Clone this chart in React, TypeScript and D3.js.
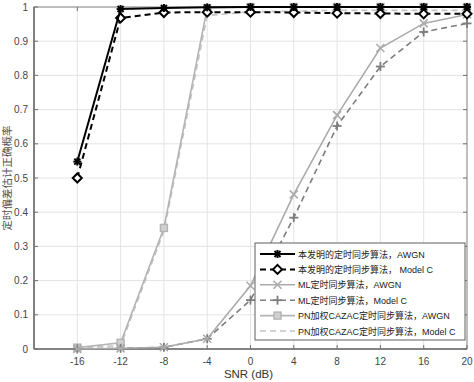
import React from "react";
import * as d3 from "d3";

const snr = [-16, -12, -8, -4, 0, 4, 8, 12, 16, 20];
const propAwgn = [0.548, 0.994, 0.997, 0.999, 1, 1, 1, 1, 1, 1];
const propModelC = [0.5, 0.968, 0.984, 0.985, 0.985, 0.984, 0.982, 0.981, 0.98, 0.98];
const mlAwgn = [0, 0.002, 0.005, 0.03, 0.185, 0.452, 0.684, 0.88, 0.952, 0.978];
const mlModelC = [0, 0.002, 0.005, 0.03, 0.143, 0.384, 0.652, 0.826, 0.927, 0.952];
const pnAwgn = [0.004, 0.018, 0.354, 0.997, 1, 1, 1, 1, 1, 1];
const pnModelC = [0.003, 0.01, 0.345, 0.975, 0.986, 0.988, 0.99, 0.99, 0.99, 0.99];

const xTicks = [-16, -12, -8, -4, 0, 4, 8, 12, 16, 20];
const yTicks = [0, 0.1, 0.2, 0.3, 0.4, 0.5, 0.6, 0.7, 0.8, 0.9, 1];
const legendLabels = [
  "本发明的定时同步算法，AWGN",
  "本发明的定时同步算法， Model C",
  "ML定时同步算法，AWGN",
  "ML定时同步算法，Model C",
  "PN加权CAZAC定时同步算法，AWGN",
  "PN加权CAZAC定时同步算法，Model C",
];
const yLabel = "定时偏差估计正确概率";
const xLabel = "SNR (dB)";

type Series = {
  values: number[];
  color: string;
  width: number;
  dash: string | null;
  marker: "star" | "diamond" | "x" | "plus" | "square" | "none";
};

const series: Series[] = [
  { values: propAwgn, color: "#000", width: 2, dash: null, marker: "star" },
  { values: propModelC, color: "#000", width: 2, dash: "6,4", marker: "diamond" },
  { values: mlAwgn, color: "#ababab", width: 1.6, dash: null, marker: "x" },
  { values: mlModelC, color: "#7d7d7d", width: 1.6, dash: "6,4", marker: "plus" },
  { values: pnAwgn, color: "#b4b4b4", width: 1.6, dash: null, marker: "square" },
  { values: pnModelC, color: "#c4c4c4", width: 1.6, dash: "6,4", marker: "none" },
];

const W = 474;
const H = 382;
const x = d3.scaleLinear().domain([-20, 20]).range([34, 467]);
const y = d3.scaleLinear().domain([0, 1]).range([349, 7]);

function Marker({ kind, cx, cy, color }: { kind: Series["marker"]; cx: number; cy: number; color: string }) {
  const s = 4;
  if (kind === "star") {
    return (
      <g stroke={color} strokeWidth={2}>
        <line x1={cx - s} y1={cy} x2={cx + s} y2={cy} />
        <line x1={cx} y1={cy - s} x2={cx} y2={cy + s} />
        <line x1={cx - s * 0.75} y1={cy - s * 0.75} x2={cx + s * 0.75} y2={cy + s * 0.75} />
        <line x1={cx - s * 0.75} y1={cy + s * 0.75} x2={cx + s * 0.75} y2={cy - s * 0.75} />
      </g>
    );
  }
  if (kind === "diamond") {
    const d = 4.5;
    return (
      <path
        d={`M${cx},${cy - d}L${cx + d},${cy}L${cx},${cy + d}L${cx - d},${cy}Z`}
        fill="#fff"
        stroke={color}
        strokeWidth={2}
      />
    );
  }
  if (kind === "x") {
    return (
      <g stroke={color} strokeWidth={1.6}>
        <line x1={cx - s} y1={cy - s} x2={cx + s} y2={cy + s} />
        <line x1={cx - s} y1={cy + s} x2={cx + s} y2={cy - s} />
      </g>
    );
  }
  if (kind === "plus") {
    return (
      <g stroke={color} strokeWidth={1.8}>
        <line x1={cx - s - 0.5} y1={cy} x2={cx + s + 0.5} y2={cy} />
        <line x1={cx} y1={cy - s - 0.5} x2={cx} y2={cy + s + 0.5} />
      </g>
    );
  }
  if (kind === "square") {
    return <rect x={cx - 3.5} y={cy - 3.5} width={7} height={7} fill="#d0d0d0" stroke={color} strokeWidth={1.4} />;
  }
  return null;
}

export default function App() {
  const line = d3
    .line<number>()
    .x((_, i) => x(snr[i]))
    .y((v) => y(v));
  const font = "'Liberation Sans', Arial, 'Noto Sans CJK SC', sans-serif";
  const x0 = x.range()[0];
  const x1 = x.range()[1];
  const yb = y.range()[0];
  const yt = y.range()[1];
  const lg = { x: 255, y: 243, w: 210, h: 97 };
  const rowH = 15.4;
  return (
    <svg width={W} height={H} style={{ position: "absolute", left: 0, top: 0, background: "#fff" }} fontFamily={font}>
      <rect width={W} height={H} fill="#fff" />
      {/* grid */}
      <g stroke="#e4e4e4" strokeWidth={1}>
        {xTicks.map((t) => (
          <line key={"gx" + t} x1={x(t)} x2={x(t)} y1={yt} y2={yb} />
        ))}
        {yTicks.map((t) => (
          <line key={"gy" + t} x1={x0} x2={x1} y1={y(t)} y2={y(t)} />
        ))}
      </g>
      {/* box */}
      <rect x={x0} y={yt} width={x1 - x0} height={yb - yt} fill="none" stroke="#8a8a8a" strokeWidth={1} />
      <line x1={x0} x2={x1} y1={yb} y2={yb} stroke="#707070" strokeWidth={1.6} />
      <line x1={x0} x2={x0} y1={yt} y2={yb} stroke="#707070" strokeWidth={1.6} />
      {/* ticks */}
      <g stroke="#707070" strokeWidth={1}>
        {xTicks.map((t) => (
          <g key={"tx" + t}>
            <line x1={x(t)} x2={x(t)} y1={yb} y2={yb - 4} />
            <line x1={x(t)} x2={x(t)} y1={yt} y2={yt + 4} />
          </g>
        ))}
        {yTicks.map((t) => (
          <g key={"ty" + t}>
            <line x1={x0} x2={x0 + 4} y1={y(t)} y2={y(t)} />
            <line x1={x1} x2={x1 - 4} y1={y(t)} y2={y(t)} />
          </g>
        ))}
      </g>
      {/* tick labels */}
      <g fill="#444" fontSize={10}>
        {xTicks.map((t) => (
          <text key={"lx" + t} x={x(t)} y={365} textAnchor="middle">
            {t}
          </text>
        ))}
        {yTicks.map((t) => (
          <text key={"ly" + t} x={28} y={y(t) + 3.5} textAnchor="end">
            {String(t)}
          </text>
        ))}
      </g>
      <text x={(x0 + x1) / 2 - 2} y={378} textAnchor="middle" fontSize={11.5} fill="#333">
        {xLabel}
      </text>
      <text
        transform={`translate(11,${(yt + yb) / 2}) rotate(-90)`}
        textAnchor="middle"
        fontSize={10.5}
        fill="#555"
        fontFamily="'Noto Sans CJK SC', sans-serif"
      >
        {yLabel}
      </text>
      {/* series */}
      {series
        .slice()
        .reverse()
        .map((s, ri) => (
          <g key={"s" + ri}>
            <path
              d={line(s.values) || ""}
              fill="none"
              stroke={s.color}
              strokeWidth={s.width}
              strokeDasharray={s.dash || undefined}
            />
            {s.values.map((v, i) => (
              <Marker key={i} kind={s.marker} cx={x(snr[i])} cy={y(v)} color={s.color} />
            ))}
          </g>
        ))}
      {/* legend */}
      <rect x={lg.x} y={lg.y} width={lg.w} height={lg.h} fill="#fff" stroke="#606060" strokeWidth={1} />
      {series.map((s, i) => {
        const cy = lg.y + 11 + i * rowH;
        return (
          <g key={"lg" + i}>
            <line
              x1={lg.x + 5}
              x2={lg.x + 40}
              y1={cy}
              y2={cy}
              stroke={s.color}
              strokeWidth={s.width}
              strokeDasharray={s.dash || undefined}
            />
            <Marker kind={s.marker} cx={lg.x + 22.5} cy={cy} color={s.color} />
            <text x={lg.x + 43} y={cy + 3.5} fontSize={9} fill="#222">
              {legendLabels[i]}
            </text>
          </g>
        );
      })}
    </svg>
  );
}
